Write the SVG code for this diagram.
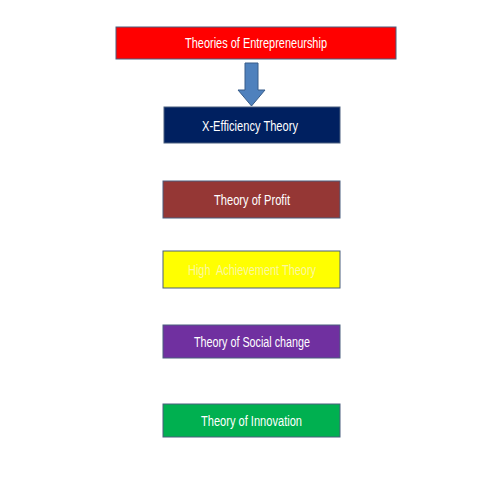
<svg xmlns="http://www.w3.org/2000/svg" width="480" height="480" viewBox="0 0 480 480">
<style>
.box{stroke:#4a5f7f;stroke-width:1}
.t{font-family:"Liberation Sans",Arial,sans-serif;font-size:14px;fill:#ffffff;text-anchor:middle;dominant-baseline:central}
</style>
<rect width="480" height="480" fill="#ffffff"/>
<g id="connectors">
<path d="M245,63 H258 V90 H265 L251.5,106 L238,90 H245 Z" fill="#4f81bd" stroke="#385d8a" stroke-width="1"/>
</g>
<g id="n0"><rect class="box" x="116" y="27" width="280" height="32" fill="#ff0000"/><text class="t" x="256" y="43" textLength="142" lengthAdjust="spacingAndGlyphs">Theories of Entrepreneurship</text></g>
<g id="n1"><rect class="box" x="164" y="107" width="176" height="36" fill="#002060"/><text class="t" x="250" y="126" textLength="96" lengthAdjust="spacingAndGlyphs">X-Efficiency Theory</text></g>
<g id="n2"><rect class="box" x="163" y="181" width="177" height="37" fill="#953735"/><text class="t" x="252" y="200" textLength="76" lengthAdjust="spacingAndGlyphs">Theory of Profit</text></g>
<g id="n3"><rect class="box" x="163" y="251" width="177" height="37" fill="#ffff00"/><text class="t" x="252" y="270" textLength="128" lengthAdjust="spacingAndGlyphs" xml:space="preserve" style="fill:#fcf7a0">High  Achievement Theory</text></g>
<g id="n4"><rect class="box" x="163" y="325" width="177" height="33" fill="#7030a0"/><text class="t" x="252" y="342" textLength="116" lengthAdjust="spacingAndGlyphs">Theory of Social change</text></g>
<g id="n5"><rect class="box" x="163" y="404" width="177" height="33" fill="#00b050"/><text class="t" x="251.5" y="421" textLength="101" lengthAdjust="spacingAndGlyphs">Theory of Innovation</text></g>
</svg>
